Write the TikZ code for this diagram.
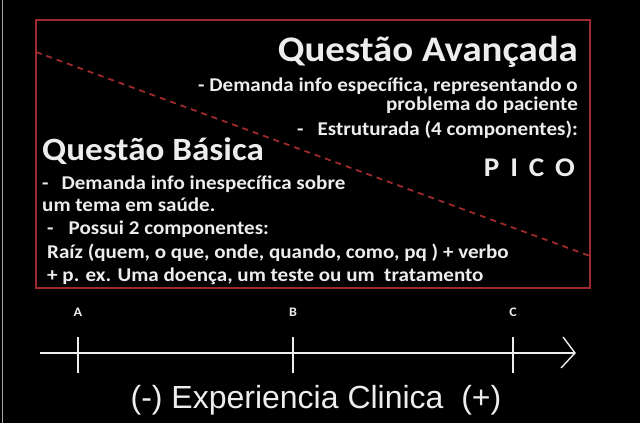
\documentclass[tikz,border=0pt]{standalone}
\usepackage{fontspec}
\setmainfont{Carlito}[FakeStretch=1.08]
\newfontfamily\arialfont{Liberation Sans}
\definecolor{slidered}{HTML}{9E2A2E}
\definecolor{slidetext}{HTML}{EDEDED}
\begin{document}
\begin{tikzpicture}[x=1pt,y=-1pt,
  txt/.style={text=slidetext,font=\bfseries\fontsize{19.5}{22}\selectfont,inner sep=0pt},
  big/.style={text=slidetext,font=\bfseries\fontsize{36}{40}\selectfont,inner sep=0pt},
  lbl/.style={text=slidetext,font=\bfseries\fontsize{13}{15}\selectfont,inner sep=0pt},
  tick/.style={draw=slidetext,line width=1.6pt},
  axis/.style={draw=slidetext,line width=1.8pt}]
\fill[black] (0,0) rectangle (640,423);
\useasboundingbox (0,0) rectangle (640,423);
\draw[gray!70,line width=1pt] (2,0) -- (2,423);
% frame and diagonal
\draw[slidered,line width=1.6pt] (36,20) rectangle (590,288);
\coordinate (dl) at (36,52);
\coordinate (dr) at (590,256);
\draw[slidered,line width=1.8pt,dash pattern=on 6pt off 5pt] (dl) -- (dr);
% advanced question
\node[big,anchor=base east] (qa) at (578,61) {Questão Avançada};
\node[txt,anchor=base east] (a1) at (578,91) {- Demanda info específica, representando o};
\node[txt,anchor=base east] (a2) at (578,110) {problema do paciente};
\node[txt,anchor=base east] (a3) at (578,135) {-\hspace{14pt}Estruturada (4 componentes):};
\node[text=slidetext,font=\bfseries\fontsize{27}{30}\selectfont,inner sep=0pt,anchor=base east] (pico) at (575,176) {P\hspace{0.4em}I\hspace{0.4em}C\hspace{0.4em}O};
% basic question
\node[big,font=\bfseries\fontsize{32.5}{36}\selectfont,anchor=base west] (qb) at (42,160) {Questão Básica};
\node[txt,anchor=base west] (b1) at (42,189) {-\hspace{13pt}Demanda info inespecífica sobre};
\node[txt,anchor=base west] (b2) at (42,211) {um tema em saúde.};
\node[txt,anchor=base west] (b3) at (47,234) {-\hspace{15pt}Possui 2 componentes:};
\node[txt,anchor=base west] (b4) at (47,258) {Raíz (quem, o que, onde, quando, como, pq ) + verbo};
\node[txt,anchor=base west] (b5) at (47,281) {+ p. ex. Uma doença, um teste ou um\ \ tratamento};
% timeline
\coordinate (ax0) at (40,353);
\coordinate (ax1) at (575,353);
\draw[axis] (ax0) -- (ax1);
\draw[slidetext,line width=1.4pt] (563,337) -- (ax1) -- (561,368);
\foreach \n/\x in {A/78,B/293,C/513}{
  \coordinate (t\n) at (\x,353);
  \draw[tick] (\x,337) -- (\x,373);
  \node[lbl] (l\n) at (\x,312) {\n};
}
\node[text=slidetext,font=\arialfont\fontsize{32}{36}\selectfont,inner sep=0pt,anchor=base] (exp) at (316,408) {(-) Experiencia Clinica\ \ (+)};
\end{tikzpicture}
\end{document}
